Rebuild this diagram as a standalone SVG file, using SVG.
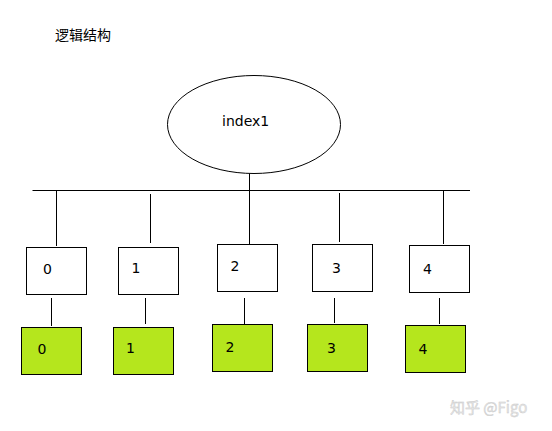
<svg xmlns="http://www.w3.org/2000/svg" width="552" height="431" viewBox="0 0 552 431">
<style>
.ln{stroke:#000;stroke-width:1;fill:none}
.bx{fill:#fff;stroke:#000;stroke-width:1}
.gb{fill:#b5e61d;stroke:#000;stroke-width:1}
.t{font-family:"DejaVu Sans","Liberation Sans",sans-serif;font-size:14px;fill:#000}
.cjk{font-family:"Noto Sans CJK SC","DejaVu Sans",sans-serif;font-size:14px;fill:#000}
</style>
<rect width="552" height="431" fill="#fff"/>
<text class="cjk" x="55" y="40">逻辑结构</text>
<g id="index1">
<ellipse class="bx" cx="254" cy="124.5" rx="86.5" ry="49"/>
<text class="t" x="222" y="126">index1</text>
</g>
<g id="connectors">
<line class="ln" x1="32.5" y1="190.5" x2="470" y2="190.5"/>
<line class="ln" x1="249.5" y1="173.5" x2="249.5" y2="244"/>
<line class="ln" x1="56.5" y1="190.5" x2="56.5" y2="246"/>
<line class="ln" x1="150.5" y1="194" x2="150.5" y2="243"/>
<line class="ln" x1="339.5" y1="193" x2="339.5" y2="242"/>
<line class="ln" x1="443.5" y1="190.5" x2="443.5" y2="244"/>
<line class="ln" x1="51.5" y1="298" x2="51.5" y2="326"/>
<line class="ln" x1="145.5" y1="298" x2="145.5" y2="324"/>
<line class="ln" x1="244.5" y1="298" x2="244.5" y2="324"/>
<line class="ln" x1="334.5" y1="298" x2="334.5" y2="323"/>
<line class="ln" x1="439.5" y1="298" x2="439.5" y2="324"/>
</g>
<g id="box0"><rect class="bx" x="26.5" y="247.5" width="60" height="47"/><text class="t" x="43" y="274">0</text></g>
<g id="box1"><rect class="bx" x="118.5" y="247.5" width="60" height="47"/><text class="t" x="131.5" y="272.5">1</text></g>
<g id="box2"><rect class="bx" x="217.5" y="244.5" width="60" height="47"/><text class="t" x="230.5" y="271">2</text></g>
<g id="box3"><rect class="bx" x="312.5" y="244.5" width="60" height="47"/><text class="t" x="332" y="273">3</text></g>
<g id="box4"><rect class="bx" x="409.5" y="245.5" width="60" height="47"/><text class="t" x="423" y="273.5">4</text></g>
<g id="green0"><rect class="gb" x="21.5" y="327.5" width="60" height="47"/><text class="t" x="37.5" y="353.5">0</text></g>
<g id="green1"><rect class="gb" x="113.5" y="327.5" width="60" height="47"/><text class="t" x="126" y="353">1</text></g>
<g id="green2"><rect class="gb" x="212.5" y="324.5" width="60" height="47"/><text class="t" x="225.5" y="351.5">2</text></g>
<g id="green3"><rect class="gb" x="307.5" y="324.5" width="60" height="47"/><text class="t" x="327" y="353">3</text></g>
<g id="green4"><rect class="gb" x="405.5" y="325.5" width="60" height="47"/><text class="t" x="418.5" y="354">4</text></g>
<text x="450" y="413" style="font-family:'Noto Sans CJK SC','DejaVu Sans',sans-serif;font-size:15px;fill:#e6e6e6;stroke:#c8c8c8;stroke-width:0.4">知乎 @Figo</text>
</svg>
